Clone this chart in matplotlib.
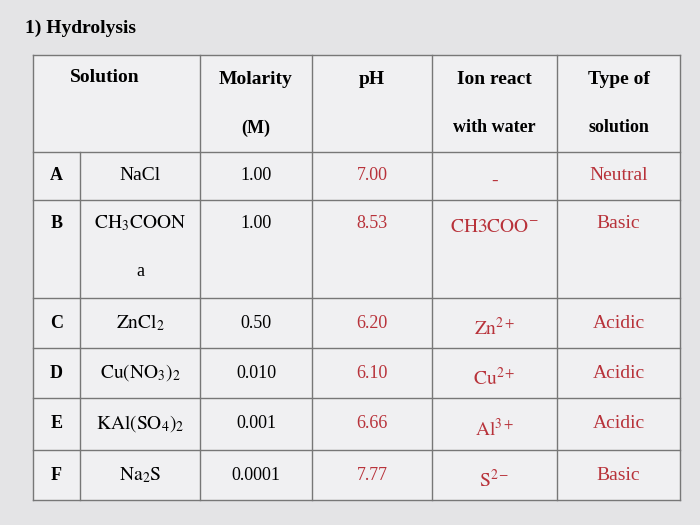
import matplotlib.pyplot as plt

plt.rcParams['font.family'] = ['Liberation Serif', 'DejaVu Serif']
plt.rcParams['mathtext.fontset'] = 'stix'

title = "1) Hydrolysis"
headers = [("Solution", ""), ("Molarity", "(M)"), ("pH", ""), ("Ion react", "with water"), ("Type of", "solution")]
letters = ["A", "B", "C", "D", "E", "F"]
solutions = ["NaCl", r"$\mathrm{CH_3COON}$", r"$\mathrm{ZnCl_2}$", r"$\mathrm{Cu(NO_3)_2}$",
             r"$\mathrm{KAl(SO_4)_2}$", r"$\mathrm{Na_2S}$"]
molarity = ["1.00", "1.00", "0.50", "0.010", "0.001", "0.0001"]
ph = ["7.00", "8.53", "6.20", "6.10", "6.66", "7.77"]
ions = ["-", r"$\mathrm{CH3COO^{-}}$", r"$\mathrm{Zn^{2+}}$", r"$\mathrm{Cu^{2+}}$", r"$\mathrm{Al^{3+}}$", r"$\mathrm{S^{2-}}$"]
types = ["Neutral", "Basic", "Acidic", "Acidic", "Acidic", "Basic"]

col_x = [33, 80, 200, 312, 432, 557, 680]
row_y = [55, 152, 200, 298, 348, 398, 450, 500]
red = "#b8323a"

fig = plt.figure(figsize=(7, 5.25), dpi=100)
fig.patch.set_facecolor("#e4e4e6")
ax = fig.add_axes([0, 0, 1, 1])
ax.set_xlim(0, 700)
ax.set_ylim(525, 0)
ax.axis("off")
ax.add_patch(plt.Rectangle((33, 55), 647, 445, facecolor="#f0f0f2", edgecolor="none"))

lc = "#777777"
for x in col_x:
    y0 = 152 if x == 80 else 55
    ax.plot([x, x], [y0, 500], color=lc, lw=1)
for y in row_y:
    ax.plot([33, 680], [y, y], color=lc, lw=1)

ax.text(25, 28, title, fontsize=14, fontweight="bold", va="center")
centers = [(col_x[i] + col_x[i + 1]) / 2 for i in range(6)]
ax.text(105, 78, headers[0][0], fontsize=14, fontweight="bold", ha="center", va="center")
for i, (h1, h2) in enumerate(headers[1:]):
    cx = centers[i + 2]
    ax.text(cx, 80, h1, fontsize=14, fontweight="bold", ha="center", va="center")
    if h2:
        ax.text(cx, 128, h2, fontsize=13, fontweight="bold", ha="center", va="center")

for r in range(6):
    yc = (row_y[r + 1] + row_y[r + 2]) / 2
    if r == 1:
        yc = 223
    ax.text(centers[0], yc, letters[r], fontsize=13, fontweight="bold", ha="center", va="center")
    ax.text(centers[1], yc, solutions[r], fontsize=14, ha="center", va="center")
    ax.text(centers[2], yc, molarity[r], fontsize=13, ha="center", va="center")
    ax.text(centers[3], yc, ph[r], fontsize=13, ha="center", va="center", color=red)
    ax.text(centers[4], yc + 5, ions[r], fontsize=14, ha="center", va="center", color=red)
    ax.text(centers[5], yc, types[r], fontsize=14, ha="center", va="center", color=red)
ax.text(centers[1], 272, "a", fontsize=13, ha="center", va="center")

fig.savefig("out.png", dpi=100, facecolor=fig.get_facecolor())
